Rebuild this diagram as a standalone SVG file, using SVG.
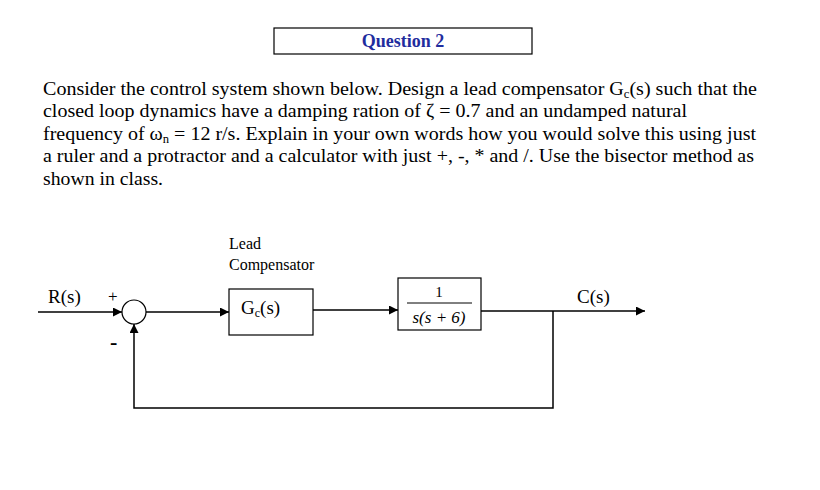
<svg xmlns="http://www.w3.org/2000/svg" width="820" height="490" viewBox="0 0 820 490">
<style>
text{font-family:"Liberation Serif","Times New Roman",Times,serif;fill:#000}
.p{font-size:19px}
.box{fill:#fff;stroke:#000;stroke-width:1.2}
.ln{fill:none;stroke:#000;stroke-width:1.5}
</style>
<defs><marker id="b" viewBox="0 0 10 10" refX="10" refY="5" markerWidth="9" markerHeight="9" markerUnits="userSpaceOnUse" orient="auto"><path d="M0,0L10,5L0,10z"/></marker></defs>
<rect width="820" height="490" fill="#fff"/>
<g id="title"><rect x="274" y="28" width="258" height="26" class="box"/><text x="403" y="47" text-anchor="middle" font-size="18" font-weight="bold" style="fill:#1f2d9e">Question 2</text></g>
<g id="para">
<text x="43" y="95" class="p" textLength="714" lengthAdjust="spacingAndGlyphs">Consider the control system shown below. Design a lead compensator G<tspan font-size="12" dy="3">c</tspan><tspan dy="-3">(s) such that the</tspan></text>
<text x="43" y="117" class="p" textLength="644" lengthAdjust="spacingAndGlyphs">closed loop dynamics have a damping ration of ζ = 0.7 and an undamped natural</text>
<text x="43" y="140" class="p" textLength="713" lengthAdjust="spacingAndGlyphs">frequency of ω<tspan font-size="12" dy="3">n</tspan><tspan dy="-3"> = 12 r/s. Explain in your own words how you would solve this using just</tspan></text>
<text x="43" y="162" class="p" textLength="711" lengthAdjust="spacingAndGlyphs">a ruler and a protractor and a calculator with just +, -, * and /. Use the bisector method as</text>
<text x="43" y="185" class="p" textLength="120" lengthAdjust="spacingAndGlyphs">shown in class.</text>
</g>
<g id="connectors">
<path d="M38,312H122" class="ln" marker-end="url(#b)"/>
<path d="M146,312H229" class="ln" marker-end="url(#b)"/>
<path d="M313,310H398" class="ln" marker-end="url(#b)"/>
<path d="M481,311H645" class="ln" marker-end="url(#b)"/>
<path d="M553,311V408H134V324" class="ln" marker-end="url(#b)"/>
</g>
<g id="sum"><circle cx="134" cy="312" r="12" class="box"/><text x="108" y="302" font-size="17">+</text><text x="110" y="349" font-size="22" font-weight="bold">-</text></g>
<g id="R"><text x="48" y="303" class="p">R(s)</text></g>
<g id="C"><text x="577" y="303" class="p">C(s)</text></g>
<g id="gc"><text x="229" y="249" font-size="16">Lead</text><text x="229" y="270" font-size="16">Compensator</text>
<rect x="229" y="289" width="84" height="46" class="box"/><text x="241" y="314" class="p">G<tspan font-size="12" dy="3">c</tspan><tspan dy="-3">(s)</tspan></text></g>
<g id="plant"><rect x="398" y="278" width="83" height="52" class="box"/><text x="439" y="297" text-anchor="middle" font-size="15" font-family="DejaVu Serif">1</text><path d="M407,303H472" stroke="#000" stroke-width="1"/><text x="439" y="323" text-anchor="middle" font-size="17" font-style="italic">s(s + 6)</text></g>
</svg>
